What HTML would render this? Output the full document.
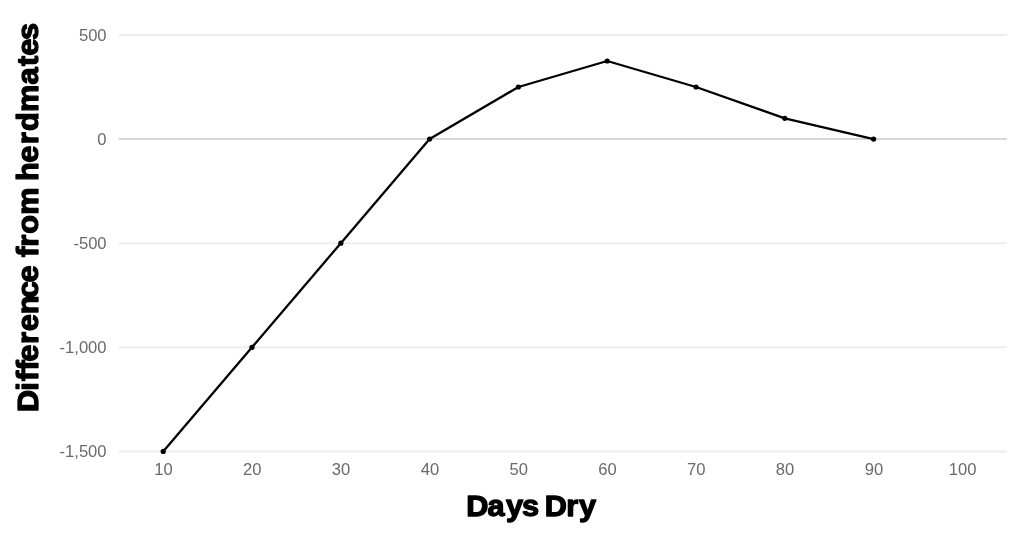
<!DOCTYPE html>
<html lang="en">
<head>
<meta charset="utf-8">
<title>Days Dry chart</title>
<style>
html,body{margin:0;padding:0;background:#fff;}
body{width:1024px;height:536px;overflow:hidden;}
svg{display:block;will-change:transform;}
.tick{font-family:"Liberation Sans",sans-serif;font-size:16.6px;fill:#6a6a6a;}
.title{font-family:"Liberation Sans",sans-serif;font-weight:bold;font-size:29.5px;fill:#000;stroke:#000;stroke-width:1.3px;stroke-linejoin:round;}
</style>
</head>
<body>
<svg width="1024" height="536" viewBox="0 0 1024 536">
<rect width="1024" height="536" fill="#ffffff"/>
<line x1="118.8" x2="1006.8" y1="35.0" y2="35.0" stroke="#eeeeee" stroke-width="2"/>
<text class="tick" x="106.6" y="40.8" text-anchor="end">500</text>
<line x1="118.8" x2="1006.8" y1="139.1" y2="139.1" stroke="#d7d7d7" stroke-width="2"/>
<text class="tick" x="106.6" y="144.9" text-anchor="end">0</text>
<line x1="118.8" x2="1006.8" y1="243.2" y2="243.2" stroke="#eeeeee" stroke-width="2"/>
<text class="tick" x="106.6" y="249.0" text-anchor="end">-500</text>
<line x1="118.8" x2="1006.8" y1="347.3" y2="347.3" stroke="#eeeeee" stroke-width="2"/>
<text class="tick" x="106.6" y="353.1" text-anchor="end">-1,000</text>
<line x1="118.8" x2="1006.8" y1="451.4" y2="451.4" stroke="#eeeeee" stroke-width="2"/>
<text class="tick" x="106.6" y="457.2" text-anchor="end">-1,500</text>
<text class="tick" x="163.5" y="474.9" text-anchor="middle">10</text>
<text class="tick" x="252.3" y="474.9" text-anchor="middle">20</text>
<text class="tick" x="341.1" y="474.9" text-anchor="middle">30</text>
<text class="tick" x="429.9" y="474.9" text-anchor="middle">40</text>
<text class="tick" x="518.7" y="474.9" text-anchor="middle">50</text>
<text class="tick" x="607.5" y="474.9" text-anchor="middle">60</text>
<text class="tick" x="696.3" y="474.9" text-anchor="middle">70</text>
<text class="tick" x="785.1" y="474.9" text-anchor="middle">80</text>
<text class="tick" x="873.9" y="474.9" text-anchor="middle">90</text>
<text class="tick" x="962.7" y="474.9" text-anchor="middle">100</text>
<polyline points="163.2,451.4 252.0,347.3 340.8,243.2 429.6,139.1 518.4,87.0 607.2,61.0 696.0,87.0 784.8,118.3 873.6,139.1" fill="none" stroke="#000" stroke-width="2.3" stroke-linejoin="round" stroke-linecap="round"/>
<circle cx="163.2" cy="451.4" r="2.6" fill="#000"/>
<circle cx="252.0" cy="347.3" r="2.6" fill="#000"/>
<circle cx="340.8" cy="243.2" r="2.6" fill="#000"/>
<circle cx="429.6" cy="139.1" r="2.6" fill="#000"/>
<circle cx="518.4" cy="87.0" r="2.6" fill="#000"/>
<circle cx="607.2" cy="61.0" r="2.6" fill="#000"/>
<circle cx="696.0" cy="87.0" r="2.6" fill="#000"/>
<circle cx="784.8" cy="118.3" r="2.6" fill="#000"/>
<circle cx="873.6" cy="139.1" r="2.6" fill="#000"/>
<text class="title" transform="scale(1.04 1)" x="448.41 468.80 486.51 502.02 518.39 523.79 544.57 556.70" y="516.38">Days Dry</text>
<text class="title" transform="translate(37.98 410.0) rotate(-90) scale(1.04 1)" x="-1.88 18.53 27.99 37.99 46.51 63.56 75.79 92.00 107.79 122.66 139.16 147.17 156.93 169.46 187.79 213.29 220.30 237.66 255.63 268.19 286.44 313.08 330.69 340.55 355.77" y="0">Difference from herdmates</text>
</svg>
</body>
</html>
